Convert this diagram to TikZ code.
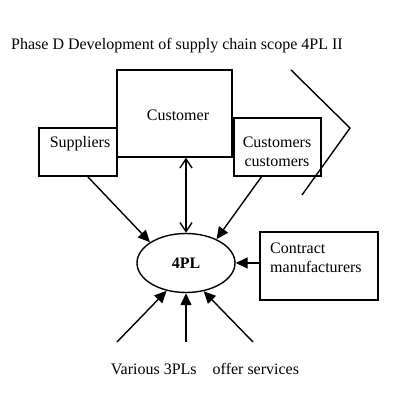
\documentclass[tikz,border=0pt]{standalone}
\usepackage{fontspec}
\setmainfont{Liberation Serif}
\usetikzlibrary{arrows.meta,shapes.geometric}
\begin{document}
\begin{tikzpicture}[
  x=1pt,y=-1pt,
  box/.style={rectangle,draw,line width=1.4pt,inner sep=0pt},
  hub/.style={ellipse,draw,line width=1.4pt,inner sep=0pt,minimum width=98pt,minimum height=59pt,font=\bfseries\fontsize{16}{18}\selectfont},
  feed/.style={line width=1.4pt,-{Triangle[length=12pt,width=11pt]}},
  link/.style={line width=1.4pt,{Straight Barb[length=9pt,width=12pt]}-{Straight Barb[length=9pt,width=12pt]}},
  lbl/.style={font=\fontsize{16}{18.5}\selectfont,inner sep=0pt}
]
\useasboundingbox (0,0) rectangle (408,404);
% title
\node[lbl,anchor=west] (title) at (11,46) {Phase D Development of supply chain scope 4PL II};
% chevron
\coordinate (chevtop) at (291,70);
\coordinate (chevtip) at (350,128);
\coordinate (chevend) at (302,195);
\draw[line width=1.4pt] (chevtop) -- (chevtip) -- (chevend);
% boxes
\node[box,minimum width=115pt,minimum height=87pt] (customer) at (174.5,113.5) {};
\node[lbl] at (178,115) {Customer};
\node[box,minimum width=78pt,minimum height=48pt] (suppliers) at (78,152) {};
\node[lbl] at (80,144) {Suppliers};
\node[box,minimum width=87pt,minimum height=58pt] (custcust) at (277.5,147) {};
\node[lbl,align=center] at (277,152) {Customers\\customers};
\node[box,minimum width=118pt,minimum height=68pt] (contract) at (319,266) {};
\node[lbl,align=left,anchor=west] at (270,258) {Contract\\manufacturers};
% hub
\node[hub] (fourpl) at (186,263) {4PL};
% connectors
\draw[feed] (88,177) -- (fourpl.150);
\draw[link] (customer.south -| fourpl.north) -- (fourpl.north);
\draw[feed] (262,176) -- (fourpl.38);
\draw[feed] (contract.west |- fourpl.east) -- (fourpl.east);
\coordinate (tpl1) at (117,342);
\coordinate (tpl2) at (186,342);
\coordinate (tpl3) at (253,342);
\draw[feed] (tpl1) -- (fourpl.-125);
\draw[feed] (tpl2) -- (fourpl.south);
\draw[feed] (tpl3) -- (fourpl.-58);
\node[lbl] (offer) at (205,369) {Various 3PLs\quad offer services};
\end{tikzpicture}
\end{document}
